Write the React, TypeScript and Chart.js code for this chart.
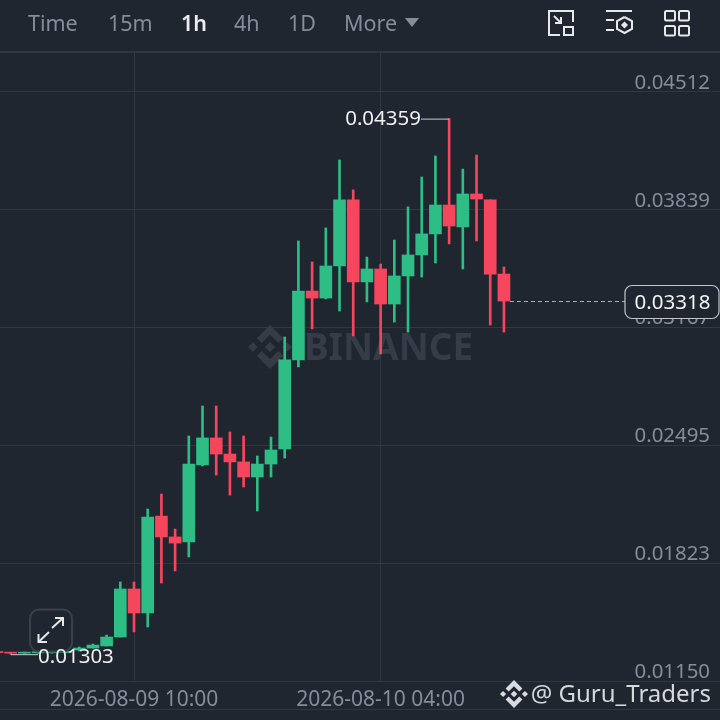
import React, { useEffect, useRef } from "react";
import { Chart, registerables } from "chart.js";

Chart.register(...registerables);

const firstHour = -10;
const opens = [0.01315, 0.01312, 0.01309, 0.01311, 0.01311, 0.01313, 0.01327, 0.01338, 0.0135, 0.01401, 0.01675, 0.01538, 0.02091, 0.01972, 0.01943, 0.02383, 0.02537, 0.02445, 0.024, 0.02314, 0.02388, 0.02474, 0.02982, 0.03375, 0.03335, 0.03518, 0.03895, 0.03427, 0.03501, 0.03301, 0.03461, 0.03581, 0.03701, 0.03866, 0.03741, 0.03929, 0.03895, 0.03472];
const closes = [0.01312, 0.01309, 0.01313, 0.01313, 0.01314, 0.01317, 0.01338, 0.01355, 0.01401, 0.01675, 0.01538, 0.02086, 0.01972, 0.01937, 0.02388, 0.02537, 0.02445, 0.024, 0.02314, 0.02388, 0.02468, 0.02982, 0.03375, 0.03335, 0.03518, 0.03895, 0.03427, 0.03501, 0.03301, 0.03461, 0.03581, 0.03701, 0.03866, 0.03746, 0.03929, 0.039, 0.03472, 0.03318];
const highs = [0.01318, 0.01314, 0.01315, 0.01314, 0.01316, 0.0132, 0.01344, 0.01361, 0.01412, 0.01715, 0.01715, 0.02131, 0.02217, 0.02017, 0.02548, 0.02719, 0.02719, 0.02571, 0.02548, 0.02434, 0.02542, 0.03113, 0.03661, 0.03541, 0.03735, 0.04123, 0.03952, 0.03569, 0.03529, 0.03666, 0.03855, 0.04026, 0.04146, 0.04359, 0.04071, 0.04151, 0.03895, 0.03512];
const lows = [0.0131, 0.01303, 0.01308, 0.01308, 0.01309, 0.01311, 0.01321, 0.01338, 0.0135, 0.01401, 0.0143, 0.01458, 0.01709, 0.01778, 0.01858, 0.02377, 0.02325, 0.02211, 0.02257, 0.0212, 0.02314, 0.02422, 0.02942, 0.03159, 0.0333, 0.03261, 0.03119, 0.03313, 0.03016, 0.03198, 0.03141, 0.03455, 0.03535, 0.03644, 0.03501, 0.03661, 0.03181, 0.03141];
const hours = opens.map((_, i) => firstHour + i);

const priceTicks = [0.0115, 0.01823, 0.02495, 0.03167, 0.03839, 0.04512];
const timeTickHours = [0, 18];
const timeTickLabels = ["2026-08-09 10:00", "2026-08-10 04:00"];
const menuItems = ["Time", "15m", "1h", "4h", "1D", "More"];
const menuX = [28, 108, 181, 234, 288, 344];
const peak = { hour: 23, price: 0.04359 };
const trough = { hour: -9, price: 0.01303 };
const lastPrice = 0.03318;

const BG = "#1f2630";
const GRID = "#30373f";
const UP = "#2ebd85";
const DOWN = "#f6465d";
const MUTED = "#848d99";
const FONT = '"Noto Sans", sans-serif';

function logo(ctx: CanvasRenderingContext2D, cx: number, cy: number, r: number, color: string) {
  ctx.save();
  ctx.translate(cx, cy);
  ctx.scale(r, r);
  ctx.fillStyle = color;
  const poly = (p: number[][]) => {
    ctx.beginPath();
    p.forEach(([x, y], i) => (i ? ctx.lineTo(x, y) : ctx.moveTo(x, y)));
    ctx.closePath();
    ctx.fill();
  };
  const diamond = (x: number, y: number, s: number) => poly([[x, y - s], [x + s, y], [x, y + s], [x - s, y]]);
  diamond(0, 0, 0.24);
  diamond(-0.78, 0, 0.22);
  diamond(0.78, 0, 0.22);
  poly([[0, -1], [0.6, -0.4], [0.38, -0.18], [0, -0.56], [-0.38, -0.18], [-0.6, -0.4]]);
  poly([[0, 1], [0.6, 0.4], [0.38, 0.18], [0, 0.56], [-0.38, 0.18], [-0.6, 0.4]]);
  ctx.restore();
}

function line(ctx: CanvasRenderingContext2D, pts: number[][]) {
  ctx.beginPath();
  pts.forEach(([x, y], i) => (i ? ctx.lineTo(x, y) : ctx.moveTo(x, y)));
  ctx.stroke();
}

function rr(ctx: CanvasRenderingContext2D, x: number, y: number, w: number, h: number, r: number) {
  ctx.beginPath();
  ctx.roundRect(x, y, w, h, r);
}

const chromePlugin = {
  id: "chrome",
  beforeDraw(chart: any) {
    const { ctx } = chart;
    ctx.save();
    ctx.fillStyle = BG;
    ctx.fillRect(0, 0, 720, 720);
    ctx.fillStyle = GRID;
    ctx.fillRect(0, 51, 720, 2);
    ctx.fillRect(0, 709, 720, 1);
    ctx.fillRect(0, 681, 720, 1);
    ctx.restore();
  },
  beforeDatasetsDraw(chart: any) {
    const { ctx } = chart;
    ctx.save();
    logo(ctx, 270, 347, 22, "#363c47");
    ctx.fillStyle = "#363c47";
    ctx.font = `bold 37px ${FONT}`;
    ctx.textAlign = "left";
    ctx.textBaseline = "middle";
    ctx.fillText("BINANCE", 304, 349);
    ctx.restore();
  },
  afterDraw(chart: any) {
    const { ctx, scales } = chart;
    const { x, y } = scales;
    ctx.save();
    // menu
    ctx.textBaseline = "middle";
    ctx.textAlign = "left";
    menuItems.forEach((m, i) => {
      ctx.font = `${m === "1h" ? "600 " : ""}21.5px ${FONT}`;
      ctx.fillStyle = m === "1h" ? "#eaecef" : MUTED;
      ctx.fillText(m, menuX[i], 24.5);
    });
    ctx.fillStyle = MUTED;
    ctx.beginPath();
    ctx.moveTo(405, 18);
    ctx.lineTo(419, 18);
    ctx.lineTo(412, 27);
    ctx.closePath();
    ctx.fill();

    // toolbar icons
    ctx.strokeStyle = "#e6e8ea";
    ctx.fillStyle = "#e6e8ea";
    ctx.lineWidth = 2;
    line(ctx, [[573, 22], [573, 11], [549, 11], [549, 35], [560, 35]]);
    ctx.strokeRect(564, 27, 9, 8);
    line(ctx, [[554, 16], [561, 23]]);
    line(ctx, [[555, 23], [561, 23], [561, 17]]);
    line(ctx, [[606, 11], [632, 11]]);
    line(ctx, [[606, 20], [614, 20]]);
    line(ctx, [[606, 30], [614, 30]]);
    line(ctx, [[624.5, 17], [632, 21], [632, 29], [624.5, 33], [617, 29], [617, 21], [624.5, 17]]);
    ctx.beginPath();
    ctx.moveTo(624.5, 21.5);
    ctx.lineTo(628, 25);
    ctx.lineTo(624.5, 28.5);
    ctx.lineTo(621, 25);
    ctx.closePath();
    ctx.fill();
    [[665, 11], [679, 11], [665, 26], [679, 26]].forEach(([a, b]) => {
      rr(ctx, a, b, 10, 9.5, 1.5);
      ctx.stroke();
    });

    // expand button
    ctx.strokeStyle = "#3b414b";
    rr(ctx, 30, 609.5, 42, 42, 9);
    ctx.stroke();
    ctx.strokeStyle = "#e6e8ea";
    line(ctx, [[52, 628], [63, 618]]);
    line(ctx, [[55, 618], [63, 618], [63, 626]]);
    line(ctx, [[49, 632], [38.5, 642]]);
    line(ctx, [[38.5, 634], [38.5, 642], [47, 642]]);

    // high / low markers
    ctx.font = `20.5px ${FONT}`;
    ctx.textBaseline = "middle";
    ctx.fillStyle = "#eef0f2";
    ctx.strokeStyle = "#c9ccd0";
    ctx.lineWidth = 1;
    const px = x.getPixelForValue(peak.hour);
    const py = y.getPixelForValue(peak.price);
    line(ctx, [[px, py + 0.5], [421, py + 0.5]]);
    ctx.textAlign = "right";
    ctx.fillText(peak.price.toFixed(5), 421, py + 1);
    const tx = x.getPixelForValue(trough.hour);
    const ty = y.getPixelForValue(trough.price);
    line(ctx, [[tx, ty + 0.5], [38, ty + 0.5]]);
    ctx.textAlign = "left";
    ctx.fillText(trough.price.toFixed(5), 38, ty + 3);

    // last price
    const ly = y.getPixelForValue(lastPrice);
    ctx.setLineDash([4, 3]);
    ctx.strokeStyle = "#aeb3ba";
    const lx = x.getPixelForValue(hours[hours.length - 1]) + 6;
    line(ctx, [[lx, ly + 0.5], [625, ly + 0.5]]);
    ctx.setLineDash([]);
    rr(ctx, 625, 285.5, 94, 33, 7);
    ctx.fillStyle = BG;
    ctx.fill();
    ctx.strokeStyle = "#c2c5c9";
    ctx.lineWidth = 1.2;
    ctx.stroke();
    ctx.fillStyle = "#f2f3f4";
    ctx.textAlign = "center";
    ctx.fillText(lastPrice.toFixed(5), 672.5, 303);

    // signature
    logo(ctx, 514, 694, 14, "#d9dbde");
    ctx.font = `24px ${FONT}`;
    ctx.textAlign = "right";
    ctx.fillStyle = "#d5d8dc";
    ctx.fillText("@ Guru_Traders", 711, 695);
    ctx.restore();
  },
};

export default function App() {
  const ref = useRef<HTMLCanvasElement>(null);
  useEffect(() => {
    const colors = opens.map((o, i) => (closes[i] >= o ? UP : DOWN));
    const chart = new Chart(ref.current as HTMLCanvasElement, {
      type: "bar",
      data: {
        datasets: [
          {
            label: "wick",
            data: hours.map((h, i) => ({ x: h, y: [lows[i], highs[i]] })) as any,
            backgroundColor: colors,
            barThickness: 2,
            grouped: false,
            order: 2,
          },
          {
            label: "body",
            data: hours.map((h, i) => ({ x: h, y: [opens[i], closes[i]] })) as any,
            backgroundColor: colors,
            barThickness: 12,
            minBarLength: 1,
            grouped: false,
            order: 1,
          },
        ],
      },
      options: {
        responsive: false,
        animation: false,
        events: [],
        layout: { padding: { top: 52, left: 0, right: 0, bottom: 0 } },
        plugins: { legend: { display: false }, tooltip: { enabled: false }, title: { display: false } },
        scales: {
          x: {
            type: "linear",
            min: -9.781,
            max: 42.77,
            offset: false,
            afterBuildTicks: (s: any) => {
              s.ticks = timeTickHours.map((value) => ({ value }));
            },
            afterFit: (s: any) => {
              s.height = 39;
            },
            grid: { color: GRID, drawTicks: false, lineWidth: 1, offset: false },
            border: { display: false },
            ticks: {
              autoSkip: false,
              maxRotation: 0,
              minRotation: 0,
              padding: 6,
              color: MUTED,
              font: { family: "Noto Sans", size: 21 },
              callback: (v: any) => timeTickLabels[timeTickHours.indexOf(Number(v))] ?? "",
            },
          },
          y: {
            position: "right",
            min: 0.0115,
            max: 0.04739,
            afterBuildTicks: (s: any) => {
              s.ticks = priceTicks.map((value) => ({ value }));
            },
            afterFit: (s: any) => {
              s.width = 0;
            },
            grid: { color: GRID, drawTicks: false, lineWidth: 1 },
            border: { display: false },
            ticks: {
              mirror: true,
              padding: -10,
              labelOffset: -9,
              color: MUTED,
              font: { family: "Noto Sans", size: 20.4 },
              callback: (v: any) => Number(v).toFixed(5),
            },
          },
        },
      },
      plugins: [chromePlugin],
    } as any);
    return () => chart.destroy();
  }, []);
  return (
    <div style={{ position: "fixed", left: 0, top: 0, width: 720, height: 720 }}>
      <canvas ref={ref} width={720} height={720} style={{ display: "block" }} />
    </div>
  );
}
